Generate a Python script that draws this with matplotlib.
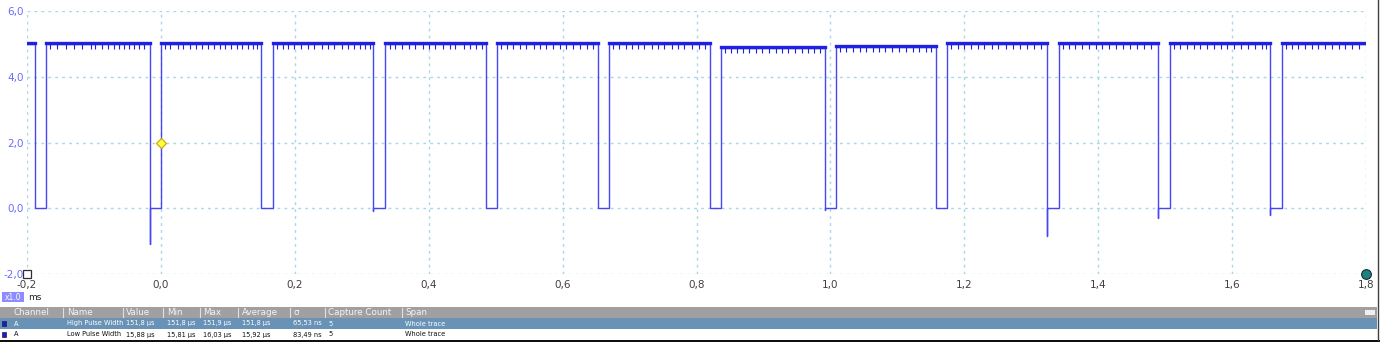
import numpy as np
import matplotlib.pyplot as plt
from matplotlib.patches import Rectangle
from matplotlib.lines import Line2D

# Edge times (ms) of the captured pulse train
fall_times = [-0.188, -0.0163, 0.1495, 0.3168, 0.4856, 0.6529, 0.8202, 0.992,
              1.1577, 1.3235, 1.4893, 1.6566]
rise_times = [-0.1716, 0.0002, 0.1674, 0.3347, 0.502, 0.6693, 0.8366, 1.0084,
              1.1742, 1.3415, 1.5073, 1.6745]
# level of the high segment preceding each falling edge, plus the final one
high_levels = [5.0, 5.0, 5.0, 5.0, 5.0, 5.0, 5.0, 4.88, 4.9, 5.0, 5.0, 5.0, 5.0]
# undershoot minimum at each falling edge
undershoot = [0.0, -1.09, 0.0, -0.08, 0.0, 0.0, 0.0, -0.05, 0.0, -0.85, -0.3, -0.2]
low_level = 0.0

# short downward glitches on the high level (ms)
glitch_t = [-0.165, -0.155, -0.142, -0.13, -0.118, -0.105, -0.098, -0.088, -0.079, -0.07,
            -0.062, -0.055, -0.047, -0.04, -0.033, -0.025,
            0.006, 0.014, 0.025, 0.033, 0.044, 0.052, 0.061, 0.07, 0.079, 0.088, 0.095,
            0.104, 0.113, 0.121, 0.13, 0.138, 0.144,
            0.173, 0.182, 0.19, 0.199, 0.21, 0.219, 0.228, 0.24, 0.249, 0.258, 0.27, 0.279,
            0.288, 0.297, 0.305, 0.312,
            0.342, 0.35, 0.36, 0.371, 0.38, 0.392, 0.401, 0.41, 0.421, 0.432, 0.44, 0.452,
            0.461, 0.47, 0.479,
            0.508, 0.517, 0.526, 0.537, 0.546, 0.557, 0.566, 0.575, 0.586, 0.596, 0.605,
            0.616, 0.626, 0.636, 0.646,
            0.676, 0.684, 0.694, 0.703, 0.712, 0.722, 0.733, 0.742, 0.752, 0.763, 0.772,
            0.782, 0.793, 0.803, 0.812,
            0.843, 0.851, 0.86, 0.869, 0.879, 0.889, 0.898, 0.908, 0.918, 0.928, 0.937,
            0.947, 0.957, 0.966, 0.976, 0.985,
            1.015, 1.024, 1.034, 1.044, 1.053, 1.063, 1.072, 1.082, 1.092, 1.103, 1.113,
            1.123, 1.133, 1.143, 1.151,
            1.18, 1.19, 1.2, 1.21, 1.22, 1.23, 1.241, 1.251, 1.262, 1.272, 1.283, 1.294,
            1.304, 1.314,
            1.348, 1.357, 1.366, 1.376, 1.386, 1.396, 1.406, 1.416, 1.427, 1.437, 1.447,
            1.458, 1.468, 1.479,
            1.513, 1.522, 1.532, 1.543, 1.552, 1.563, 1.573, 1.584, 1.593, 1.603, 1.613,
            1.624, 1.634, 1.644, 1.651,
            1.68, 1.69, 1.699, 1.709, 1.719, 1.729, 1.739, 1.749, 1.759, 1.769, 1.779, 1.79]

x_ticks = [-0.2, 0.0, 0.2, 0.4, 0.6, 0.8, 1.0, 1.2, 1.4, 1.6, 1.8]
y_ticks = [-2.0, 0.0, 2.0, 4.0, 6.0]

headers = ["Channel", "Name", "Value", "Min", "Max", "Average", "σ", "Capture Count", "Span"]
row_high = ["A", "High Pulse Width", "151,8 µs", "151,8 µs", "151,9 µs", "151,8 µs", "65,53 ns", "5", "Whole trace"]
row_low = ["A", "Low Pulse Width", "15,88 µs", "15,81 µs", "16,03 µs", "15,92 µs", "83,49 ns", "5", "Whole trace"]

W, H = 1380, 342
fig = plt.figure(figsize=(W / 100, H / 100), dpi=100)
ax = fig.add_axes([27 / W, 68 / H, (1366 - 27) / W, (274 - 11) / H])

# build step trace
t = [-0.2]
v = [high_levels[0]]
for i, (f, r) in enumerate(zip(fall_times, rise_times)):
    t += [f, f, f, r, r]
    v += [high_levels[i], undershoot[i] if undershoot[i] < 0 else low_level, low_level, low_level, high_levels[i + 1]]
t.append(1.8)
v.append(high_levels[-1])

ax.plot(t, v, color="#4646f5", lw=1.0, zorder=3)
# thick noisy band at high level
for i in range(len(high_levels)):
    start = -0.2 if i == 0 else rise_times[i - 1]
    end = fall_times[i] if i < len(fall_times) else 1.8
    ax.plot([start, end], [high_levels[i] + 0.03, high_levels[i] + 0.03], color="#2020e0", lw=2.4, zorder=3)
for g in glitch_t:
    lvl = high_levels[np.searchsorted(fall_times, g)]
    ax.vlines(g, lvl - 0.15, lvl, color="#2020e0", lw=0.8, zorder=3)

# markers
ax.plot(0.0, 2.0, marker="D", ms=5, mfc="#ffff40", mec="#d0a000", mew=0.8, zorder=5, clip_on=False)
ax.plot(1.8, -2.0, marker="o", ms=7, mfc="#1e8080", mec="#103030", mew=0.8, zorder=5, clip_on=False)
ax.plot(-0.2, -2.0, marker="s", ms=6, mfc="white", mec="#303030", mew=0.9, zorder=5, clip_on=False)

ax.set_xlim(-0.2, 1.8)
ax.set_ylim(-2.0, 6.0)
ax.set_xticks(x_ticks)
ax.set_yticks(y_ticks)
ax.set_xticklabels([f"{x:.1f}".replace(".", ",") for x in x_ticks])
ax.set_yticklabels([f"{y:.1f}".replace(".", ",") for y in y_ticks])
ax.tick_params(length=0, labelsize=7.5, pad=3)
ax.tick_params(axis="y", labelcolor="#6a6aff", pad=2)
ax.tick_params(axis="x", labelcolor="#404040", pad=4)
ax.grid(True, color="#a8d8e8", ls=(0, (2, 3)), lw=1.0)
for s in ax.spines.values():
    s.set_visible(False)

# footer: timebase badge
fig.add_artist(Rectangle((2 / W, (H - 302) / H), 22 / W, 10 / H, transform=fig.transFigure,
                         facecolor="#8c8cff", edgecolor="none"))
fig.text(13 / W, (H - 297) / H, "x1.0", color="white", fontsize=5.5, ha="center", va="center")
fig.text(28 / W, (H - 297) / H, "ms", color="#202020", fontsize=6.5, ha="left", va="center")

# measurement table
col_sep = [8, 63, 123, 163, 200, 238, 290, 325, 402]
col_txt = [14, 67, 126, 167, 203, 242, 293, 328, 405]
fig.add_artist(Rectangle((0, (H - 318) / H), 1377 / W, 11 / H, transform=fig.transFigure,
                         facecolor="#a0a0a0", edgecolor="none"))
fig.add_artist(Rectangle((0, (H - 329) / H), 1377 / W, 11 / H, transform=fig.transFigure,
                         facecolor="#6893b6", edgecolor="none"))
fig.add_artist(Rectangle((0, 0), 1380 / W, 2 / H, transform=fig.transFigure,
                         facecolor="#101010", edgecolor="none"))
for xs in col_sep[1:]:
    fig.add_artist(Line2D([xs / W, xs / W], [(H - 317) / H, (H - 308) / H], color="#e0e0e0", lw=0.8))
for xt, txt in zip(col_txt, headers):
    fig.text(xt / W, (H - 312.5) / H, txt, color="#f4f4f4", fontsize=6.3, ha="left", va="center")
for xt, txt in zip(col_txt, row_high):
    fig.text(xt / W, (H - 323.5) / H, txt, color="white", fontsize=4.8, ha="left", va="center")
for xt, txt in zip(col_txt, row_low):
    fig.text(xt / W, (H - 334.5) / H, txt, color="#101010", fontsize=4.8, ha="left", va="center")
for yc in (323.5, 334.5):
    fig.add_artist(Rectangle((2 / W, (H - yc - 2.5) / H), 4 / W, 5 / H, transform=fig.transFigure,
                             facecolor="#1a1ad0", edgecolor="#202040", lw=0.5))
# collapse button on header bar
fig.add_artist(Rectangle((1365 / W, (H - 315) / H), 10 / W, 5 / H, transform=fig.transFigure,
                         facecolor="#f0f0f0", edgecolor="none"))
# right border
fig.add_artist(Line2D([1377.5 / W, 1377.5 / W], [2 / H, 1], color="#404040", lw=1.0))

fig.savefig("out.png", dpi=100)
